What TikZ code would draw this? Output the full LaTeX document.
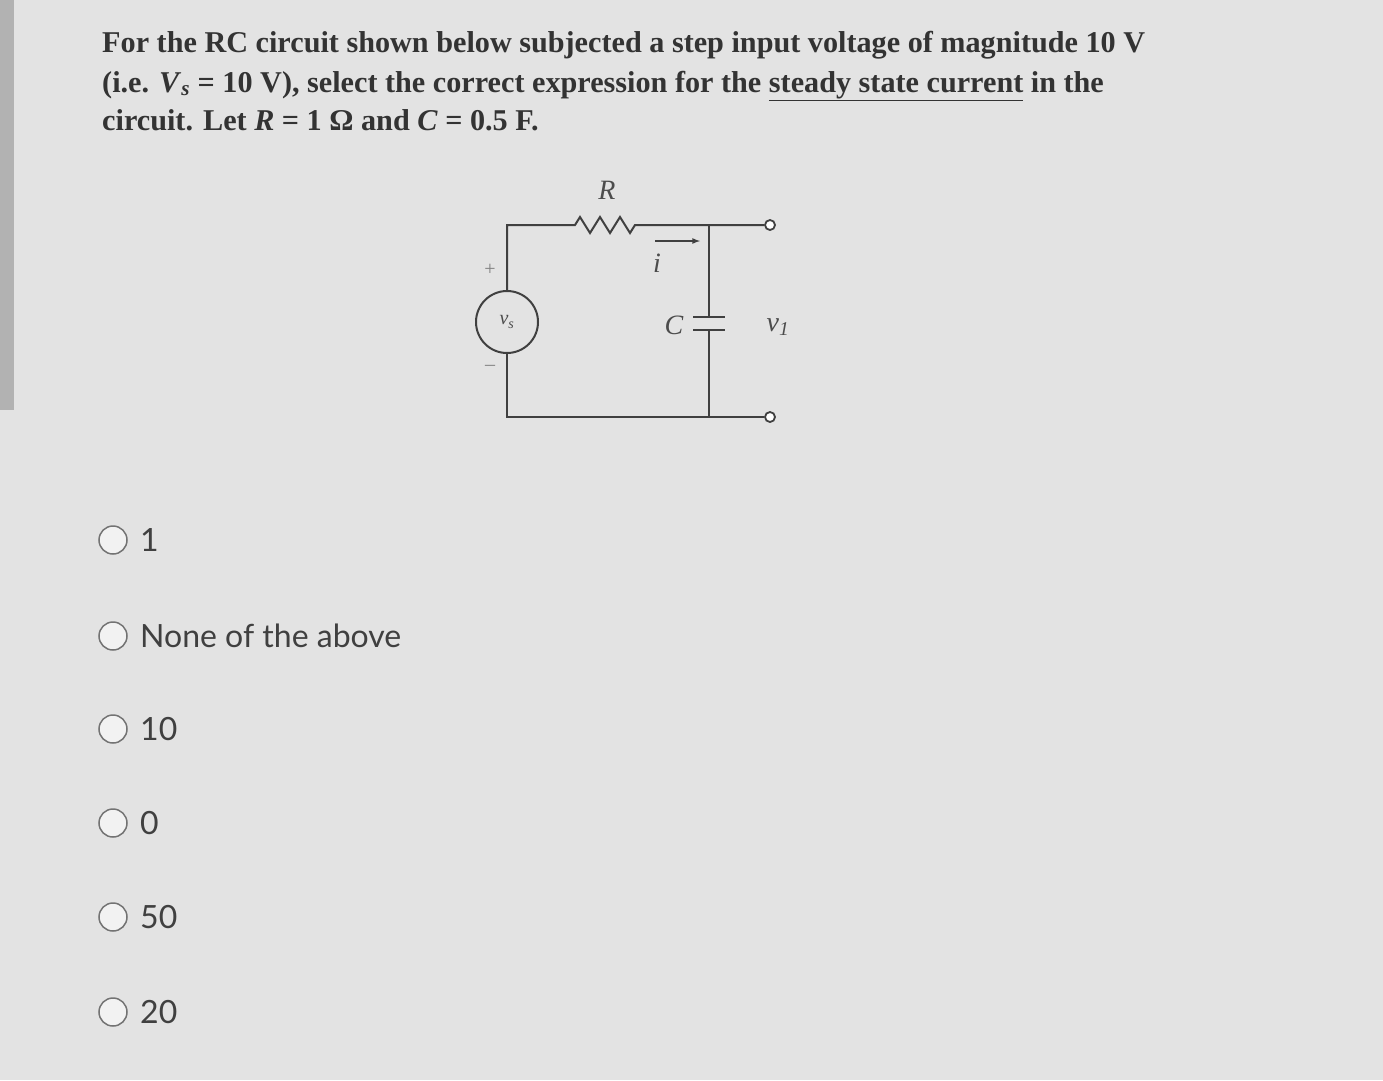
\documentclass[tikz,border=0pt]{standalone}
\usepackage{fontspec}
\setmainfont{Liberation Serif}
\newfontfamily\optfont{Lato}
\newcommand{\iv}[1]{\textit{#1}}
\begin{document}
\begin{tikzpicture}[x=1pt,y=-1pt,
  wire/.style={line width=2pt,draw=black!75},
  qtext/.style={anchor=base west,inner sep=0pt,font=\fontsize{30.2}{34}\selectfont\bfseries,text=black!80},
  opt/.style={anchor=west,inner sep=0pt,font=\optfont\fontsize{32}{36}\selectfont,text=black!75},
  radio/.style={circle,draw=black!55,line width=1.5pt,minimum size=28pt,inner sep=0pt,fill=black!5},
  term/.style={circle,draw=black!75,line width=1.8pt,minimum size=10pt,inner sep=0pt,fill=white},
  lab/.style={font=\fontsize{28}{30}\selectfont\itshape,text=black!70}]
\fill[black!11] (0,0) rectangle (1383,1080);
\fill[black!30] (0,0) rectangle (14,410);
\useasboundingbox (0,0) rectangle (1383,1080);
\node[qtext] (l1) at (102,52) {For the RC circuit shown below subjected a step input voltage of magnitude 10 V};
\node[qtext] (l2) at (102,92) {(i.e. \iv{V}\textsubscript{\iv{s}} = 10 V), select the correct expression for the \underline{steady state current} in the};
\node[qtext] (l3) at (102,130) {circuit. Let \iv{R} = 1 Ω and \iv{C} = 0.5 F.};
% circuit
\coordinate (tl) at (507,225); \coordinate (bl) at (507,417);
\coordinate (r1) at (575,225); \coordinate (r2) at (637,225);
\coordinate (ct) at (709,225); \coordinate (cb) at (709,417);
\node[term] (t1) at (770,225) {}; \node[term] (t2) at (770,417) {};
\node[circle,draw=black!75,line width=2pt,minimum size=62pt,inner sep=0pt] (vs) at (507,322) {};
\node[font=\fontsize{20}{22}\selectfont\itshape,text=black!70] at (vs) {v\textsubscript{s}};
\draw[wire] (vs.north) -- (tl) -- (r1) -- ++(5,-8) -- ++(10,16) -- ++(10,-16) -- ++(10,16) -- ++(10,-16) -- ++(10,16) -- ++(5,-8) -- (r2) -- (ct) -- (t1.west);
\draw[wire] (vs.south) -- (bl) -- (cb) -- (t2.west);
\draw[wire] (ct) -- (709,317) (709,330) -- (cb);
\draw[line width=2.4pt,draw=black!75] (693,317) -- (725,317) (693,330) -- (725,330);
\draw[line width=1.6pt,draw=black!75,-latex] (655,241) -- (700,241);
\node[lab] (i) at (657,263) {i};
\node[lab] (R) at (607,190) {R};
\node[lab] (C) at (674,325) {C};
\node[lab] (v1) at (778,327) {v\textsubscript{1}};
\node[text=black!50,font=\fontsize{20}{20}\selectfont] (pl) at (490,270) {+};
\node[text=black!50,font=\fontsize{20}{20}\selectfont] (mi) at (490,368) {--};
% options
\foreach \y/\t in {540/1,636/None of the above,729/10,823/0,917/50,1012/20}{
  \node[radio] at (113,\y) {};
  \node[opt] at (140,\y) {\t};
}
\end{tikzpicture}
\end{document}
